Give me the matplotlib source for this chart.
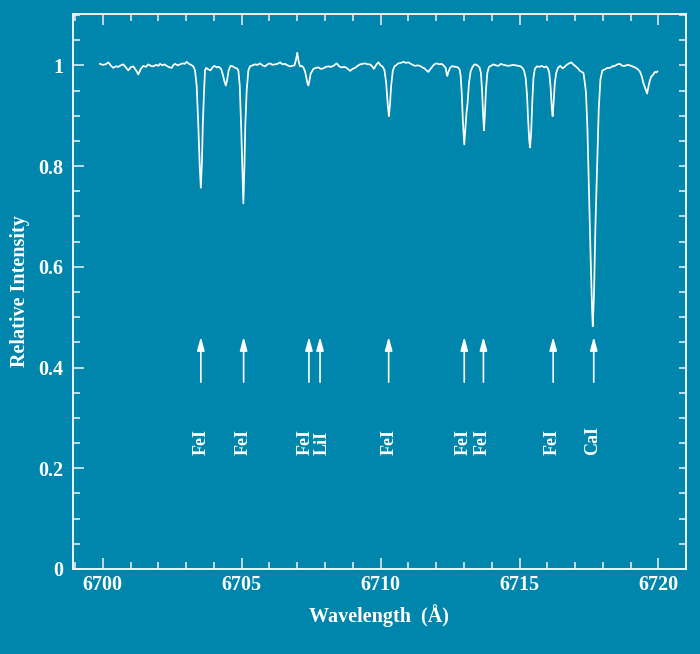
import numpy as np
import matplotlib
matplotlib.use("Agg")
import matplotlib.pyplot as plt
from matplotlib.ticker import MultipleLocator

# spectrum (wavelength in Angstrom, relative intensity)
wave = [
    6699.90, 6700.00, 6700.10, 6700.20, 6700.30, 6700.38, 6700.47, 6700.56, 6700.65, 6700.74,
    6700.83, 6700.92, 6701.00, 6701.10, 6701.20, 6701.28, 6701.37, 6701.46, 6701.55, 6701.64,
    6701.73, 6701.82, 6701.92, 6702.00, 6702.06, 6702.15, 6702.23, 6702.30, 6702.40, 6702.48,
    6702.55, 6702.60, 6702.70, 6702.78, 6702.88, 6702.95, 6703.02, 6703.10, 6703.18, 6703.26,
    6703.32, 6703.38, 6703.44, 6703.49, 6703.53, 6703.57, 6703.60, 6703.64, 6703.68, 6703.72,
    6703.80, 6703.88, 6703.95, 6704.02, 6704.10, 6704.18, 6704.26, 6704.33, 6704.38, 6704.43,
    6704.48, 6704.53, 6704.60, 6704.68, 6704.76, 6704.83, 6704.88, 6704.93, 6704.98, 6705.02,
    6705.06, 6705.10, 6705.13, 6705.18, 6705.24, 6705.30, 6705.39, 6705.48, 6705.57, 6705.66,
    6705.75, 6705.84, 6705.93, 6706.02, 6706.11, 6706.20, 6706.29, 6706.38, 6706.47, 6706.56,
    6706.65, 6706.74, 6706.82, 6706.90, 6706.95, 6707.00, 6707.05, 6707.10, 6707.16, 6707.22,
    6707.28, 6707.33, 6707.37, 6707.40, 6707.44, 6707.48, 6707.58, 6707.67, 6707.76, 6707.85,
    6707.94, 6708.03, 6708.12, 6708.21, 6708.30, 6708.42, 6708.51, 6708.60, 6708.69, 6708.78,
    6708.84, 6708.90, 6708.99, 6709.08, 6709.17, 6709.26, 6709.35, 6709.44, 6709.53, 6709.62,
    6709.70, 6709.76, 6709.84, 6709.92, 6710.00, 6710.08, 6710.14, 6710.20, 6710.26, 6710.30,
    6710.34, 6710.38, 6710.44, 6710.50, 6710.57, 6710.64, 6710.73, 6710.82, 6710.91, 6711.00,
    6711.06, 6711.15, 6711.24, 6711.33, 6711.42, 6711.50, 6711.58, 6711.65, 6711.72, 6711.78,
    6711.84, 6711.93, 6712.02, 6712.11, 6712.20, 6712.28, 6712.34, 6712.37, 6712.40, 6712.44,
    6712.50, 6712.56, 6712.62, 6712.70, 6712.78, 6712.84, 6712.88, 6712.92, 6712.96, 6713.01,
    6713.05, 6713.09, 6713.13, 6713.18, 6713.24, 6713.30, 6713.36, 6713.42, 6713.50, 6713.56,
    6713.61, 6713.65, 6713.69, 6713.72, 6713.75, 6713.79, 6713.84, 6713.90, 6713.97, 6714.06,
    6714.15, 6714.24, 6714.33, 6714.42, 6714.51, 6714.60, 6714.69, 6714.78, 6714.87, 6714.96,
    6715.04, 6715.10, 6715.16, 6715.22, 6715.27, 6715.31, 6715.35, 6715.38, 6715.42, 6715.46,
    6715.50, 6715.55, 6715.62, 6715.71, 6715.80, 6715.89, 6715.96, 6716.02, 6716.07, 6716.12,
    6716.16, 6716.19, 6716.23, 6716.27, 6716.32, 6716.38, 6716.46, 6716.55, 6716.62, 6716.70,
    6716.78, 6716.86, 6716.93, 6717.00, 6717.06, 6717.12, 6717.17, 6717.24, 6717.30, 6717.35,
    6717.39, 6717.44, 6717.50, 6717.56, 6717.61, 6717.635, 6717.68, 6717.73, 6717.80, 6717.85,
    6717.91, 6717.98, 6718.07, 6718.16, 6718.25, 6718.34, 6718.43, 6718.52, 6718.61, 6718.70,
    6718.79, 6718.88, 6718.97, 6719.06, 6719.15, 6719.24, 6719.33, 6719.40, 6719.45, 6719.52,
    6719.59, 6719.64, 6719.69, 6719.74, 6719.79, 6719.87, 6719.93, 6719.96,
]
flux = [
    1.003, 1.001, 1.002, 1.006, 0.999, 0.995, 0.998, 0.997, 1.000, 1.002,
    0.996, 0.990, 0.996, 0.998, 0.990, 0.982, 0.993, 0.999, 0.997, 1.002,
    0.999, 0.998, 1.001, 0.999, 1.003, 1.000, 1.002, 0.999, 0.996, 0.995,
    1.001, 1.003, 1.000, 1.002, 1.004, 1.003, 1.007, 1.003, 1.001, 0.998,
    0.990, 0.960, 0.880, 0.800, 0.757, 0.810, 0.880, 0.940, 0.990, 0.995,
    0.992, 0.990, 0.996, 0.999, 0.996, 0.997, 0.993, 0.980, 0.968, 0.960,
    0.972, 0.990, 0.999, 0.998, 0.995, 0.994, 0.990, 0.960, 0.880, 0.800,
    0.726, 0.800, 0.880, 0.950, 0.990, 0.998, 1.000, 1.002, 1.001, 1.004,
    1.000, 0.998, 1.002, 1.004, 1.001, 1.002, 1.003, 1.006, 1.002, 1.003,
    1.000, 0.998, 0.999, 1.000, 1.010, 1.025, 1.008, 0.998, 0.999, 0.996,
    0.988, 0.975, 0.964, 0.960, 0.970, 0.983, 0.993, 0.995, 0.996, 0.993,
    0.994, 0.997, 0.998, 0.997, 0.999, 1.004, 0.998, 0.996, 0.997, 0.995,
    0.992, 0.989, 0.993, 0.995, 0.999, 1.002, 1.003, 1.004, 1.002, 1.002,
    0.998, 0.993, 1.001, 1.006, 1.000, 0.997, 0.990, 0.965, 0.920, 0.899,
    0.925, 0.960, 0.990, 0.998, 1.001, 1.004, 1.005, 1.007, 1.005, 1.006,
    1.004, 1.001, 0.999, 1.000, 0.999, 0.996, 0.994, 0.990, 0.987, 0.992,
    0.996, 1.002, 1.004, 1.002, 1.003, 0.999, 0.995, 0.985, 0.979, 0.987,
    0.995, 0.998, 0.998, 0.997, 0.996, 0.992, 0.980, 0.945, 0.890, 0.843,
    0.875, 0.905, 0.925, 0.965, 0.988, 0.996, 1.001, 1.002, 0.999, 0.996,
    0.985, 0.950, 0.900, 0.871, 0.900, 0.950, 0.985, 0.997, 0.999, 1.002,
    1.000, 0.999, 1.003, 1.001, 1.000, 0.999, 1.000, 1.001, 1.000, 0.999,
    0.998, 0.995, 0.990, 0.975, 0.940, 0.890, 0.850, 0.837, 0.870, 0.930,
    0.975, 0.993, 0.998, 0.997, 0.999, 0.996, 0.998, 0.994, 0.985, 0.955,
    0.915, 0.899, 0.930, 0.965, 0.985, 0.995, 0.999, 0.994, 0.997, 1.001,
    1.004, 1.006, 1.002, 0.999, 0.996, 0.993, 0.989, 0.987, 0.985, 0.965,
    0.946, 0.879, 0.747, 0.614, 0.515, 0.482, 0.548, 0.680, 0.813, 0.913,
    0.972, 0.990, 0.992, 0.995, 0.995, 0.998, 0.999, 1.002, 1.003, 0.999,
    0.999, 1.001, 1.000, 0.998, 0.996, 0.993, 0.988, 0.978, 0.966, 0.955,
    0.944, 0.958, 0.970, 0.978, 0.980, 0.987, 0.986, 0.988,
]

# line identifications: arrow positions and label positions
arrow_wave = [6703.53, 6705.07, 6707.42, 6707.82, 6710.29, 6713.01, 6713.70, 6716.21, 6717.67]
label_wave = [6703.53, 6705.07, 6707.30, 6707.88, 6710.29, 6712.98, 6713.66, 6716.19, 6717.63]
label_text = ['FeI', 'FeI', 'FeI', 'LiI', 'FeI', 'FeI', 'FeI', 'FeI', 'CaI']

bg = '#0086ac'
fg = '#eef4f7'

plt.rcParams['font.family'] = ['Liberation Serif', 'DejaVu Serif']
plt.rcParams['font.weight'] = 'bold'

fig = plt.figure(figsize=(7.0, 6.54), dpi=100, facecolor=bg)
ax = fig.add_axes([0.1039, 0.13, 0.8757, 0.8486])
ax.set_facecolor(bg)

ax.plot(wave, flux, color='white', lw=1.25)

for xa in arrow_wave:
    ax.annotate('', xy=(xa, 0.461), xytext=(xa, 0.371),
                arrowprops=dict(arrowstyle='-|>,head_length=0.8,head_width=0.22',
                                color='white', lw=1.2, shrinkA=0, shrinkB=0))
for xl, t in zip(label_wave, label_text):
    ax.text(xl, 0.226, t, rotation=90, ha='center', va='bottom',
            color='white', fontsize=13, fontweight='bold')

ax.set_xlim(6698.92, 6720.98)
ax.set_ylim(0, 1.102)
ax.xaxis.set_major_locator(MultipleLocator(5))
ax.xaxis.set_minor_locator(MultipleLocator(1))
ax.yaxis.set_minor_locator(MultipleLocator(0.05))
ax.set_yticks([0, 0.2, 0.4, 0.6, 0.8, 1.0])
ax.set_yticklabels(['0', '0.2', '0.4', '0.6', '0.8', '1'])

ax.tick_params(which='both', direction='in', top=True, right=True,
               color=fg, labelcolor='white', width=1.1, labelsize=14.5)
ax.tick_params(which='major', length=8)
ax.tick_params(which='minor', length=4.8)
ax.tick_params(axis='x', pad=4)
ax.tick_params(axis='y', pad=7)
# right-hand ticks are all short in the original
for t in ax.yaxis.get_major_ticks():
    t.tick2line.set_markersize(4.8)
for s in ax.spines.values():
    s.set_color(fg)
    s.set_linewidth(1.4)

ax.set_xlabel('Wavelength  (Å)', color='white', fontsize=14.5, fontweight='bold', labelpad=7)
ax.set_ylabel('Relative Intensity', color='white', fontsize=14.5, fontweight='bold', labelpad=6)

fig.savefig('out.png', dpi=100, facecolor=bg)
